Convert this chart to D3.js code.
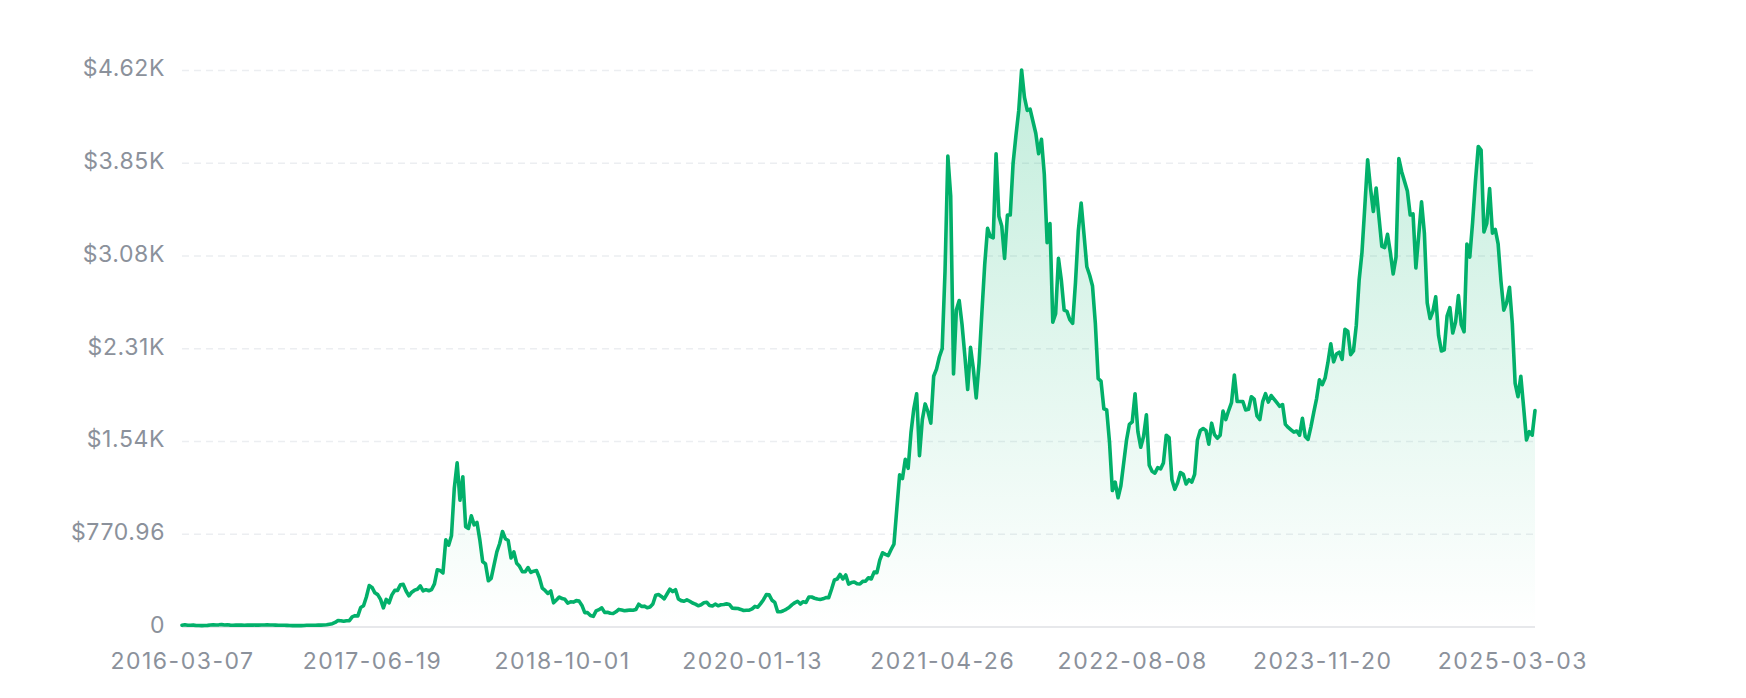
<!DOCTYPE html>
<html>
<head>
<meta charset="utf-8">
<script src="https://cdn.jsdelivr.net/npm/d3@7"></script>
<style>
  html, body { margin: 0; padding: 0; background: #ffffff; }
  svg { display: block; }
</style>
</head>
<body>
<svg id="chart" width="1746" height="698"></svg>
<script>
// ---- data: weekly price (USD), one value per week starting 2016-03-07 ----
const startWeek = "2016-03-07";
const prices2016 = [10.9, 15.1, 10.4, 10.4, 11.4, 8.6, 8.8, 7.6, 8.8, 9.4, 12.5, 13.6, 12.7, 13.9, 15.8, 12.3, 13.9, 11.5, 10.4, 11.3, 12.7, 11.8, 10.9, 11.2, 11.2, 11.2, 12.0, 11.8, 12.7, 12.9, 13.2, 11.9, 11.9, 11.3, 10.8, 10.9, 10.0, 9.6, 8.2, 7.6, 8.2, 7.6, 7.2];
const prices2017 = [8.2, 10.3, 9.9, 10.6, 10.5, 11.3, 11.4, 12.8, 15.0, 19.2, 23, 34, 50, 48, 43.7, 48, 49, 80, 90, 88, 158, 172, 245, 340, 325, 280, 265, 225, 155, 225, 197, 263, 300, 300, 347, 350, 295, 255, 285, 302, 310, 337, 296, 306, 297, 307, 354, 471, 465, 445, 720, 676];
const prices2018 = [755, 1150, 1360, 1050, 1245, 830, 815, 920, 845, 865, 720, 540, 520, 380, 400, 510, 620, 690, 790, 730, 715, 570, 620, 525, 500, 455, 455, 490, 450, 460, 465, 405, 320, 300, 275, 295, 197, 220, 245, 232, 226, 195, 205, 203, 215, 211, 175, 115, 115, 92, 84, 130];
const prices2019 = [140, 155, 117, 118, 110, 108, 122, 142, 137, 131, 134, 137, 135, 141, 185, 167, 169, 156, 162, 187, 260, 266, 250, 230, 270, 310, 290, 306, 229, 215, 210, 222, 210, 195, 186, 172, 181, 197, 201, 175, 170, 186, 172, 181, 183, 188, 183, 152, 151, 149, 142, 133];
const prices2020 = [135, 136, 146, 167, 161, 190, 223, 265, 263, 218, 200, 123, 122, 131, 143, 158, 180, 197, 210, 187, 206, 200, 245, 245, 235, 228, 225, 230, 240, 240, 310, 387, 395, 433, 395, 428, 353, 365, 370, 355, 353, 375, 377, 405, 395, 452, 447, 551, 613, 600, 590, 640];
const prices2021 = [685, 975, 1260, 1230, 1390, 1315, 1610, 1810, 1935, 1420, 1720, 1850, 1785, 1690, 2080, 2140, 2240, 2310, 2950, 3910, 3580, 2100, 2630, 2710, 2510, 2250, 1970, 2320, 2140, 1900, 2190, 2610, 3010, 3310, 3240, 3230, 3930, 3410, 3330, 3060, 3420, 3420, 3850, 4080, 4290, 4625.76, 4400, 4290, 4300, 4200, 4100, 3930];
const prices2022 = [4050, 3760, 3190, 3350, 2530, 2600, 3060, 2880, 2630, 2620, 2550, 2520, 2860, 3290, 3520, 3260, 2990, 2920, 2830, 2520, 2060, 2040, 1810, 1800, 1530, 1130, 1200, 1070, 1170, 1360, 1550, 1680, 1700, 1935, 1620, 1490, 1580, 1760, 1340, 1290, 1275, 1320, 1310, 1360, 1590, 1570, 1220, 1140, 1195, 1280, 1265, 1185];
const prices2023 = [1220, 1200, 1265, 1550, 1630, 1645, 1630, 1515, 1690, 1595, 1565, 1590, 1790, 1720, 1795, 1860, 2090, 1870, 1870, 1870, 1800, 1805, 1910, 1890, 1750, 1720, 1870, 1935, 1865, 1920, 1890, 1860, 1830, 1845, 1680, 1655, 1635, 1615, 1625, 1590, 1730, 1580, 1555, 1660, 1780, 1895, 2050, 2010, 2065, 2195, 2350, 2200];
const prices2024 = [2265, 2280, 2220, 2470, 2455, 2260, 2290, 2505, 2880, 3110, 3490, 3880, 3645, 3450, 3645, 3400, 3160, 3150, 3260, 3110, 2930, 3070, 3890, 3780, 3700, 3620, 3420, 3430, 2980, 3250, 3530, 3270, 2690, 2560, 2620, 2740, 2420, 2290, 2300, 2580, 2650, 2440, 2530, 2750, 2510, 2450, 3180, 3070, 3360, 3700, 3990, 3960];
const prices2025 = [3280, 3350, 3640, 3270, 3300, 3180, 2870, 2630, 2690, 2820, 2520, 2020, 1910, 2080, 1820, 1550, 1620, 1590, 1795];

const xTickLabels = ["2016-03-07", "2017-06-19", "2018-10-01", "2020-01-13", "2021-04-26", "2022-08-08", "2023-11-20", "2025-03-03"];
const yTickValues = [0, 770.96, 1541.92, 2312.88, 3083.84, 3854.8, 4625.76];
const yTickLabels = ["0", "$770.96", "$1.54K", "$2.31K", "$3.08K", "$3.85K", "$4.62K"];

(function () {
  const prices = [].concat(prices2016, prices2017, prices2018, prices2019, prices2020,
                           prices2021, prices2022, prices2023, prices2024, prices2025);
  const parse = d3.utcParse("%Y-%m-%d");
  const fmt = d3.utcFormat("%Y-%m-%d");
  const weeks = prices.map((_, i) => fmt(d3.utcDay.offset(parse(startWeek), 7 * i)));
  const data = prices.map((v, i) => ({ week: weeks[i], value: v }));

  const svg = d3.select("#chart");
  const mLeft = 182, mRight = 1535, mTop = 70, mBottom = 626.5;

  const x = d3.scalePoint().domain(weeks).range([mLeft, mRight]);
  const y = d3.scaleLinear().domain([0, d3.max(yTickValues)]).range([mBottom, mTop]);

  const FONT = "Inter, 'Noto Sans', 'DejaVu Sans', sans-serif";
  const GREEN = "#02b06a";
  const TEXT = "#8b919b";

  const defs = svg.append("defs");
  const grad = defs.append("linearGradient")
    .attr("id", "areaGrad").attr("gradientUnits", "userSpaceOnUse")
    .attr("x1", 0).attr("x2", 0).attr("y1", mTop).attr("y2", mBottom);
  grad.append("stop").attr("offset", "0%").attr("stop-color", "#0cb872").attr("stop-opacity", 0.25);
  grad.append("stop").attr("offset", "100%").attr("stop-color", "#0cb872").attr("stop-opacity", 0.0);

  const yAxis = svg.append("g")
    .attr("transform", `translate(${mLeft},0)`)
    .call(d3.axisLeft(y).tickValues(yTickValues)
      .tickFormat((d, i) => yTickLabels[i])
      .tickSize(-(mRight - mLeft)).tickPadding(17));
  yAxis.select(".domain").remove();
  yAxis.selectAll(".tick line")
    .attr("stroke", d => d === 0 ? "#dfe1e5" : "#eceef1")
    .attr("stroke-width", d => d === 0 ? 1.6 : 1.3)
    .attr("stroke-dasharray", d => d === 0 ? null : "7,5");
  yAxis.selectAll(".tick text")
    .attr("fill", TEXT).attr("font-family", FONT).attr("font-size", 23)
    .attr("letter-spacing", "0.6px")
    .attr("dy", "0.26em");

  const area = d3.area().x(d => x(d.week)).y0(y(0)).y1(d => y(d.value));
  const line = d3.line().x(d => x(d.week)).y(d => y(d.value));
  svg.append("path").datum(data).attr("d", area).attr("fill", "url(#areaGrad)");
  svg.append("path").datum(data).attr("d", line)
    .attr("fill", "none").attr("stroke", GREEN).attr("stroke-width", 3.6)
    .attr("stroke-linejoin", "round").attr("stroke-linecap", "round");

  const xAxis = svg.append("g")
    .attr("transform", `translate(0,${mBottom})`)
    .call(d3.axisBottom(x).tickValues(xTickLabels).tickSize(0).tickPadding(26));
  xAxis.select(".domain").remove();
  xAxis.selectAll(".tick text")
    .attr("fill", TEXT).attr("font-family", FONT).attr("font-size", 23)
    .attr("letter-spacing", "1.5px");
})();
</script>
</body>
</html>
